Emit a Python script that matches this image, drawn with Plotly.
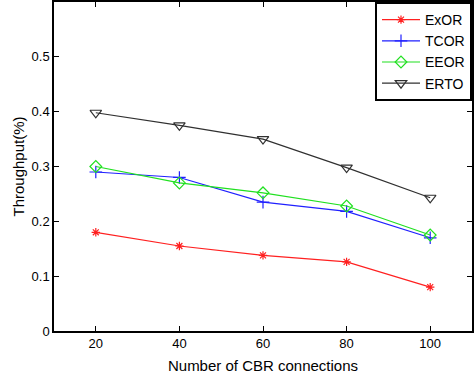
import plotly.graph_objects as go

connections = [20, 40, 60, 80, 100]
exor = [0.180, 0.155, 0.138, 0.126, 0.080]
tcor = [0.290, 0.280, 0.235, 0.218, 0.170]
eeor = [0.300, 0.270, 0.252, 0.228, 0.175]
erto = [0.398, 0.375, 0.350, 0.298, 0.243]

series = [
    ("ExOR", exor, "#ff2020", "asterisk-open", 7),
    ("TCOR", tcor, "#2020ff", "cross-thin-open", 9),
    ("EEOR", eeor, "#20e020", "diamond-open", 9),
    ("ERTO", erto, "#303030", "triangle-down-open", 10),
]

fig = go.Figure()
for name, vals, col, sym, sz in series:
    fig.add_trace(go.Scatter(
        x=connections, y=vals, name=name, mode="lines+markers",
        line=dict(color=col, width=1.2),
        marker=dict(symbol=sym, size=sz, color=col, line=dict(color=col, width=1.2)),
    ))

font = "Liberation Sans, Arial, sans-serif"
fig.update_layout(
    width=474, height=374,
    margin=dict(l=54, r=2, t=0, b=43),
    paper_bgcolor="white", plot_bgcolor="white",
    font=dict(family=font, size=12, color="black"),
    showlegend=True,
    legend=dict(x=1, y=1, xanchor="right", yanchor="top",
                bgcolor="white", bordercolor="black", borderwidth=2,
                font=dict(size=14, family=font), tracegroupgap=0,
                itemwidth=38),
    xaxis=dict(range=[10, 110], tickvals=connections, ticks="inside",
               ticklen=5, tickcolor="black", showgrid=False, zeroline=False,
               showline=True, linecolor="black", linewidth=1.5, mirror="ticks",
               title=dict(text="Number of CBR connections", font=dict(size=15), standoff=10),
               tickfont=dict(size=13)),
    yaxis=dict(range=[0, 0.6], tickvals=[0, 0.1, 0.2, 0.3, 0.4, 0.5],
               ticktext=["0", "0.1", "0.2", "0.3", "0.4", "0.5"],
               ticks="inside", ticklen=5, tickcolor="black", showgrid=False,
               zeroline=False, showline=True, linecolor="black", linewidth=1.5,
               mirror="ticks",
               title=dict(text="Throughput(%)", font=dict(size=15), standoff=3),
               tickfont=dict(size=13)),
)

fig.write_html("out.html", config={"displayModeBar": False},
               post_script="document.body.style.margin='0';document.body.style.overflow='hidden';")
